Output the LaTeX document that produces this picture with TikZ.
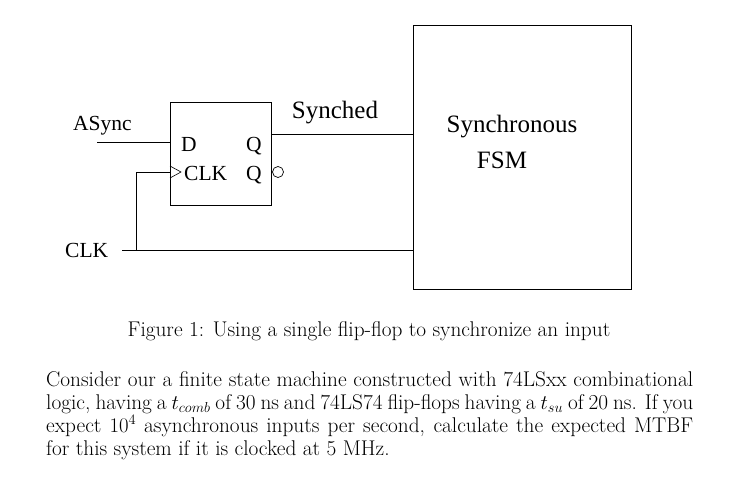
\documentclass[tikz,border=0pt]{standalone}
\usepackage{fontspec}
\newfontfamily\tms{Liberation Serif}
\begin{document}
\begin{tikzpicture}[x=1pt,y=-1pt,
  lbl/.style={font=\tms\fontsize{25}{28}\selectfont, inner sep=0pt},
  slbl/.style={font=\tms\fontsize{21.5}{24}\selectfont, inner sep=0pt},
  wire/.style={line width=0.9pt}]
\useasboundingbox (0,0) rectangle (754,476);
\node[draw, wire, minimum width=101pt, minimum height=103pt, anchor=north west] (ff) at (170,102) {};
\node[draw, wire, minimum width=218pt, minimum height=264pt, anchor=north west] (fsm) at (413,25) {};
\node[slbl, anchor=base west] (async) at (73,130) {ASync};
\node[slbl, anchor=base west] (d) at (181,151) {D};
\node[slbl, anchor=base west] (q) at (246,151) {Q};
\node[slbl, anchor=base west] (clkin) at (184,180) {CLK};
\node[slbl, anchor=base west] (qn) at (246,180) {Q};
\node[lbl, anchor=base] (syn) at (335,118) {Synched};
\node[lbl, anchor=base] (s1) at (512,132) {Synchronous};
\node[lbl, anchor=base] (s2) at (502,168) {FSM};
\node[slbl, anchor=base west] (clk) at (65,257) {CLK};
\coordinate (a0) at (97,142);
\coordinate (c0) at (122,250);
\coordinate (cj) at (136,250);
\draw[wire] (a0) -- (a0 -| ff.west);
\draw[wire] (c0) -- (c0 -| fsm.west);
\draw[wire] (cj) |- (170,172);
\draw[line width=0.6pt] (170,166) -- (181,172) -- (170,178);
\draw[wire] (271,134) -- (271,134 -| fsm.west);
\node[draw, circle, line width=0.7pt, minimum size=11pt, inner sep=0pt] (bub) at (278,172) {};
\node[font=\fontsize{21.3}{22.7}\selectfont, anchor=base] (cap) at (369,336) {Figure 1: Using a single flip-flop to synchronize an input};
\node[font=\fontsize{21.3}{23}\selectfont, anchor=north west, inner sep=0pt, text width=647pt, align=justify] (par) at (46,371) {Consider our a finite state machine constructed with 74LSxx combinational\linebreak logic, having a $t_{comb}$ of 30 ns and 74LS74 flip-flops having a $t_{su}$ of 20 ns. If you\linebreak expect $10^4$ asynchronous inputs per second, calculate the expected MTBF\linebreak for this system if it is clocked at 5 MHz.};
\end{tikzpicture}
\end{document}
